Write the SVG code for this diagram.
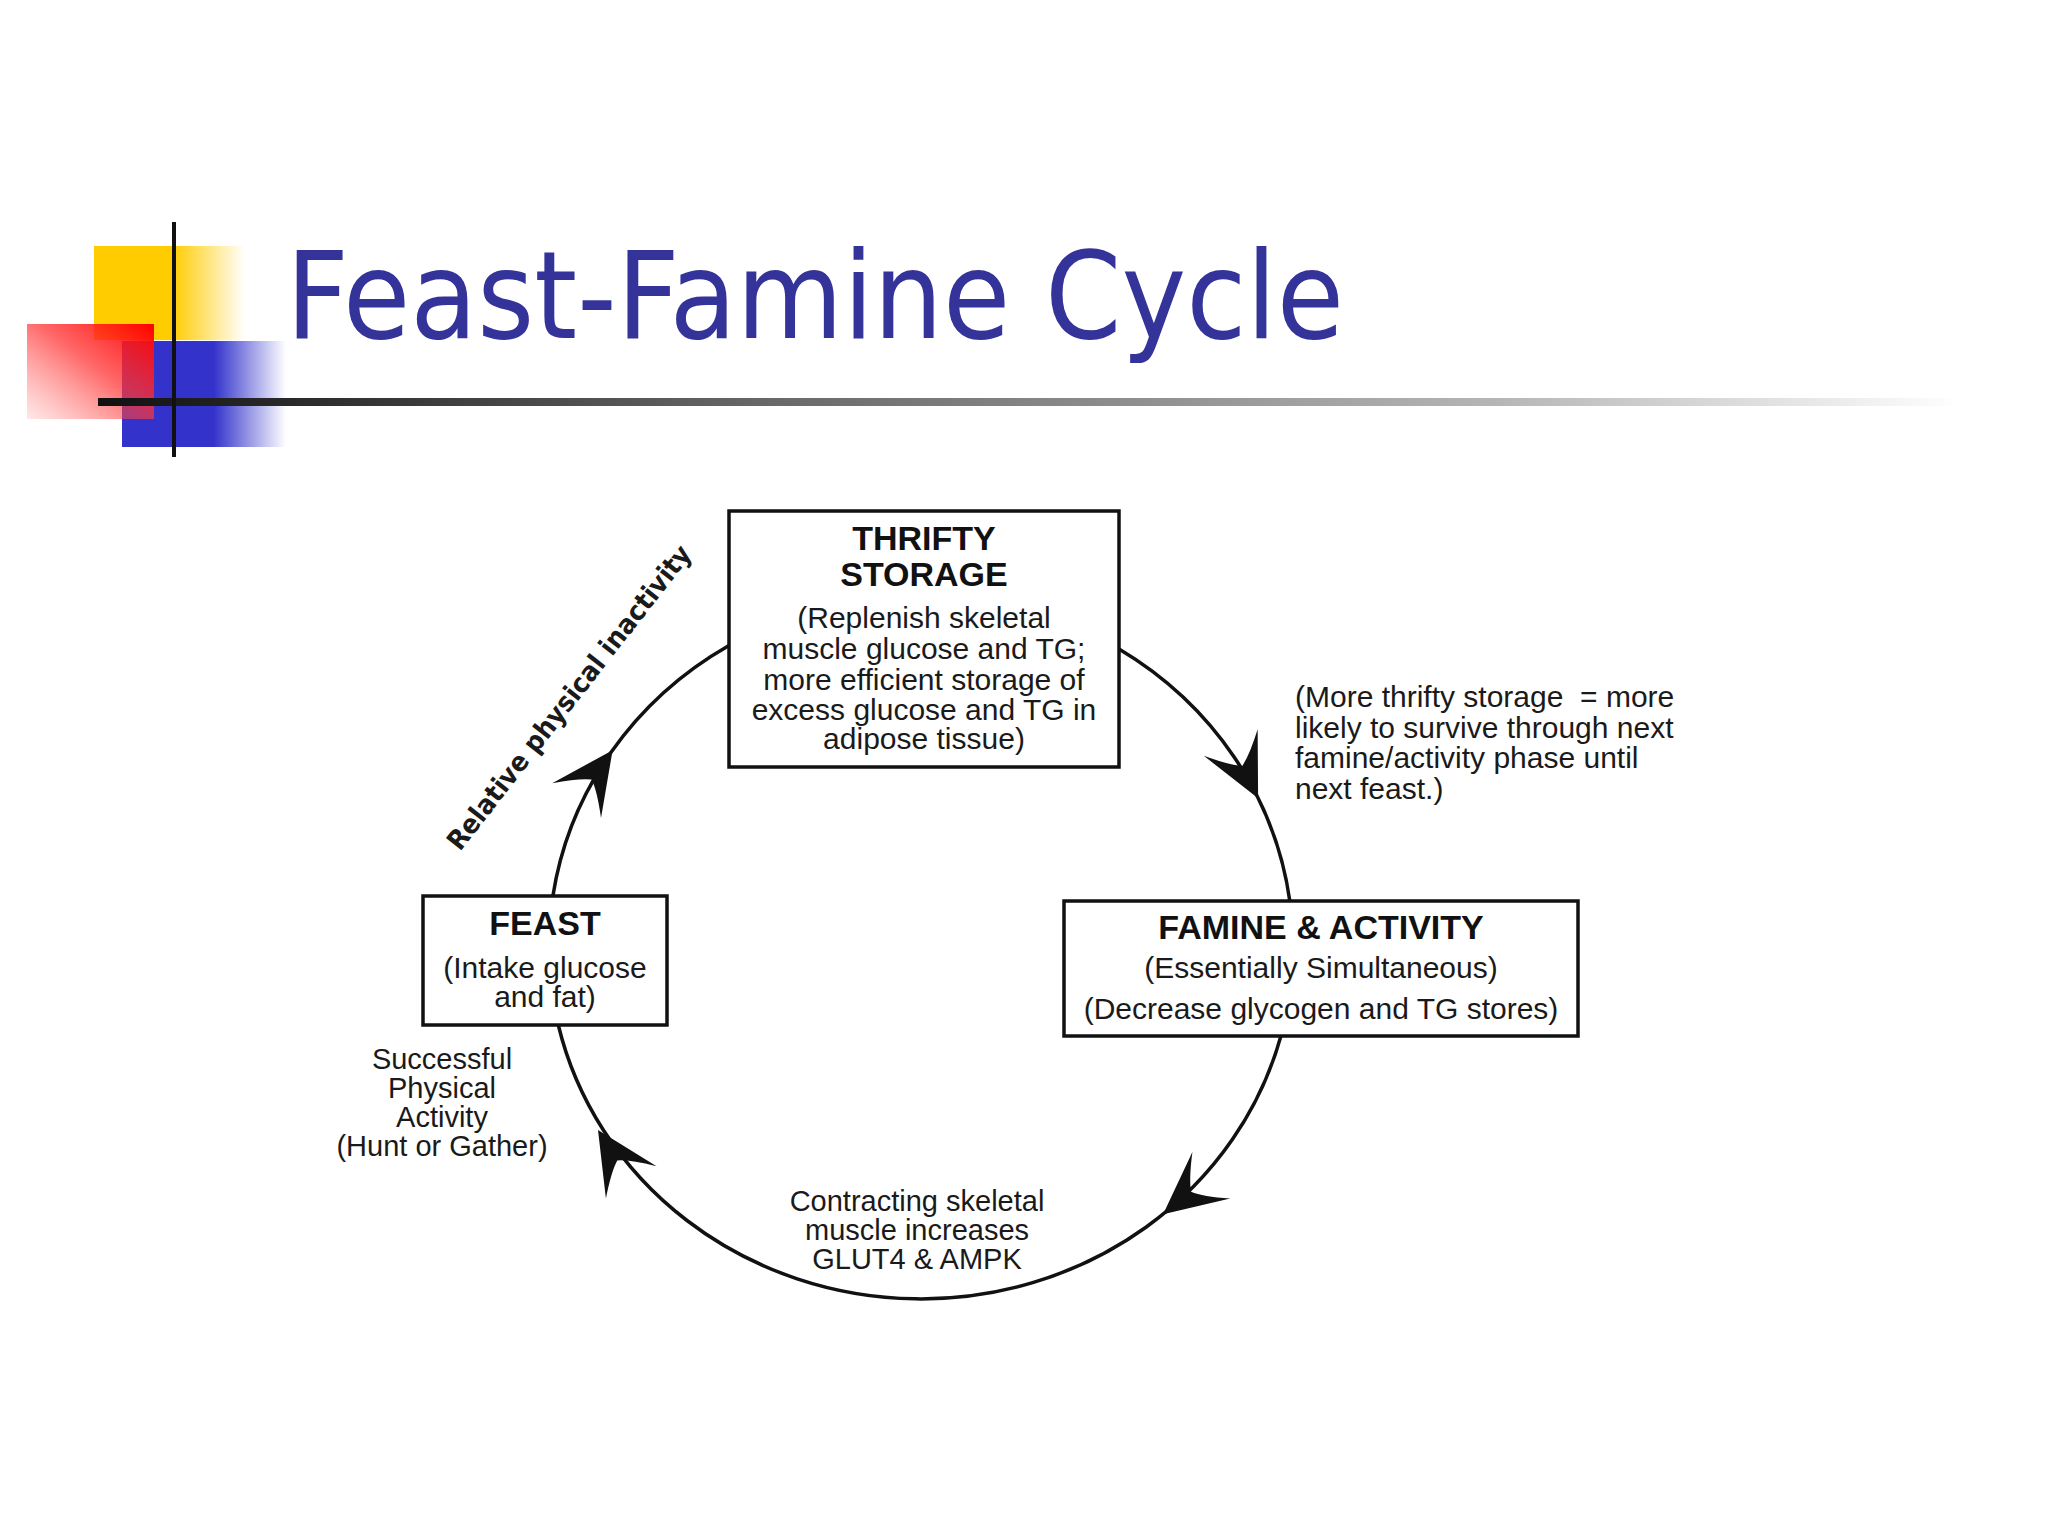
<svg xmlns="http://www.w3.org/2000/svg" xmlns:xlink="http://www.w3.org/1999/xlink" width="2048" height="1536" viewBox="0 0 2048 1536">
<style>
.title{font-family:"DejaVu Sans","Liberation Sans",sans-serif;font-size:122px;fill:#333399}
.h{font-family:"Liberation Sans",Arial,sans-serif;font-weight:bold;font-size:34px;text-anchor:middle;fill:#111}
.b{font-family:"Liberation Sans",Arial,sans-serif;font-size:30px;text-anchor:middle;fill:#1a1a1a}
.s{font-family:"Liberation Sans",Arial,sans-serif;font-size:29px;text-anchor:middle;fill:#1a1a1a}
.l{font-family:"Liberation Sans",Arial,sans-serif;font-size:30px;fill:#1a1a1a;white-space:pre}
.rot{font-family:"DejaVu Sans","Liberation Sans",sans-serif;font-weight:bold;font-size:27px;fill:#1a1a1a}
.box{fill:#fff;stroke:#111;stroke-width:3.5}
.conn{fill:none;stroke:#111;stroke-width:3.5}
.ah{fill:#111}
</style>
<defs>
<linearGradient id="gy" x1="0" y1="0" x2="1" y2="0">
<stop offset="0" stop-color="#FFCC00"/><stop offset="0.52" stop-color="#FFCC00"/><stop offset="1" stop-color="#FFCC00" stop-opacity="0"/>
</linearGradient>
<linearGradient id="gb" x1="0" y1="0" x2="1" y2="0">
<stop offset="0" stop-color="#3333CC"/><stop offset="0.56" stop-color="#3333CC"/><stop offset="1" stop-color="#3333CC" stop-opacity="0"/>
</linearGradient>
<linearGradient id="gr" x1="1" y1="0" x2="0" y2="1">
<stop offset="0" stop-color="#FF0000"/><stop offset="0.45" stop-color="#F33" stop-opacity="0.75"/><stop offset="1" stop-color="#FF6666" stop-opacity="0.15"/>
</linearGradient>
<linearGradient id="gl" x1="0" y1="0" x2="1" y2="0">
<stop offset="0" stop-color="#111"/><stop offset="0.35" stop-color="#666"/><stop offset="0.75" stop-color="#b5b5b5"/><stop offset="1" stop-color="#fff"/>
</linearGradient>
<path id="ah" d="M0,0 L-62,-30 Q-42,-11 -36,0 Q-42,11 -62,30 Z"/>
</defs>
<rect width="2048" height="1536" fill="#fff"/>
<g id="decoration">
<rect x="94" y="246" width="151" height="94" fill="url(#gy)"/>
<rect x="122" y="341" width="164" height="106" fill="url(#gb)"/>
<rect x="27" y="324" width="127" height="95" fill="url(#gr)"/>
<rect x="98" y="398" width="1862" height="8" fill="url(#gl)"/>
<rect x="172" y="222" width="4" height="235" fill="#111"/>
</g>
<g id="title">
<text class="title" x="286" y="338" textLength="1058" lengthAdjust="spacingAndGlyphs">Feast-Famine Cycle</text>
</g>
<g id="connectors">
<path id="c-feast-thrifty" class="conn" d="M552.9,896 A372,352 0 0 1 729,645.5"/>
<path id="c-thrifty-famine" class="conn" d="M1119,649 A372,352 0 0 1 1289.8,901"/>
<path id="c-famine-feast" class="conn" d="M1280.9,1036 A372,352 0 0 1 558.3,1025"/>
<use xlink:href="#ah" class="ah" transform="translate(612.6,750.2) rotate(-54.5)"/>
<use xlink:href="#ah" class="ah" transform="translate(1258.1,798.2) rotate(63.8)"/>
<use xlink:href="#ah" class="ah" transform="translate(1163.1,1214.3) rotate(141)"/>
<use xlink:href="#ah" class="ah" transform="translate(598,1130) rotate(-122.4)"/>
</g>
<g id="node-thrifty">
<rect class="box" x="729" y="511" width="390" height="256"/>
<text class="h" x="924" y="550">THRIFTY</text>
<text class="h" x="924" y="586">STORAGE</text>
<text class="b" x="924" y="628">(Replenish skeletal</text>
<text class="b" x="924" y="659">muscle glucose and TG;</text>
<text class="b" x="924" y="690">more efficient storage of</text>
<text class="b" x="924" y="720">excess glucose and TG in</text>
<text class="b" x="924" y="749">adipose tissue)</text>
</g>
<g id="node-feast">
<rect class="box" x="423" y="896" width="244" height="129"/>
<text class="h" x="545" y="935">FEAST</text>
<text class="b" x="545" y="978">(Intake glucose</text>
<text class="b" x="545" y="1007">and fat)</text>
</g>
<g id="node-famine">
<rect class="box" x="1064" y="901" width="514" height="135"/>
<text class="h" x="1321" y="939">FAMINE &amp; ACTIVITY</text>
<text class="b" x="1321" y="978">(Essentially Simultaneous)</text>
<text class="b" x="1321" y="1019">(Decrease glycogen and TG stores)</text>
</g>
<g id="labels">
<text class="rot" x="460" y="852" transform="rotate(-52 460 852)" textLength="378" lengthAdjust="spacingAndGlyphs">Relative physical inactivity</text>
<text class="l" x="1295" y="707" xml:space="preserve">(More thrifty storage  = more</text>
<text class="l" x="1295" y="738">likely to survive through next</text>
<text class="l" x="1295" y="768">famine/activity phase until</text>
<text class="l" x="1295" y="799">next feast.)</text>
<text class="s" x="442" y="1069">Successful</text>
<text class="s" x="442" y="1098">Physical</text>
<text class="s" x="442" y="1127">Activity</text>
<text class="s" x="442" y="1156">(Hunt or Gather)</text>
<text class="s" x="917" y="1211">Contracting skeletal</text>
<text class="s" x="917" y="1240">muscle increases</text>
<text class="s" x="917" y="1269">GLUT4 &amp; AMPK</text>
</g>
</svg>
